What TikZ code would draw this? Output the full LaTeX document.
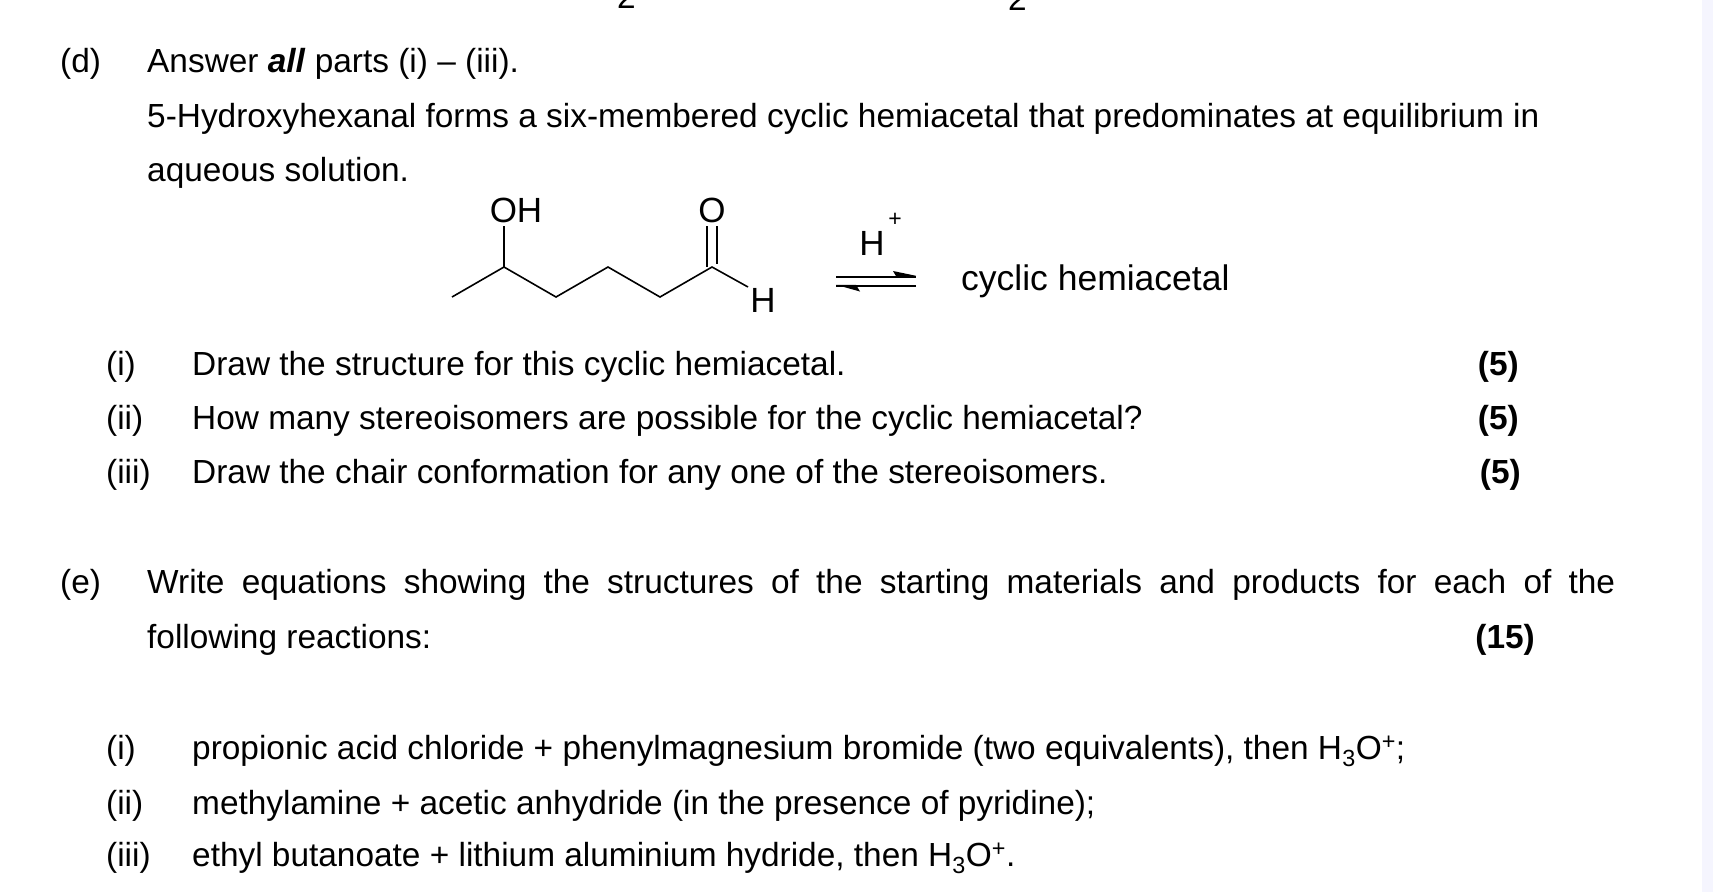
\documentclass[tikz,border=0pt]{standalone}
\usepackage{fontspec}
\setmainfont{Liberation Sans}
\begin{document}
\begin{tikzpicture}[x=1pt,y=-1pt,
  txt/.style={anchor=base west,inner sep=0pt,font=\fontsize{33.4}{38}\selectfont},
  mk/.style={anchor=base east,inner sep=0pt,font=\fontsize{33.4}{38}\selectfont\bfseries},
  atom/.style={inner sep=0pt,font=\fontsize{35}{40}\selectfont},
  bond/.style={line width=1.6pt}]
\useasboundingbox (0,0) rectangle (1713,892);
\fill[white] (0,0) rectangle (1713,892);
\fill[black!8!blue!4!white] (1702,0) rectangle (1713,892);
\begin{scope}
\clip (0,0) rectangle (1713,892);
\node[txt] (t2a) at (617,8) {2};
\node[txt] (t2b) at (1008,10) {2};
\end{scope}
% (d)
\node[txt] (d) at (60,72) {(d)};
\node[txt] (d1) at (147,72) {Answer \textbf{\textit{all}} parts (i) -- (iii).};
\node[txt] (d2) at (147,127) {5-Hydroxyhexanal forms a six-membered cyclic hemiacetal that predominates at equilibrium in};
\node[txt] (d3) at (147,181) {aqueous solution.};
% molecule
\coordinate (c1) at (452,297);
\coordinate (c2) at (504,267);
\coordinate (c3) at (556,297);
\coordinate (c4) at (608,267);
\coordinate (c5) at (660,297);
\coordinate (c6) at (712,267);
\coordinate (hb) at (748,287);
\node[atom] (oh) at (516,210) {OH};
\node[atom] (o) at (712,210) {O};
\node[atom] (h) at (763,300) {H};
\draw[bond] (c1)--(c2)--(c3)--(c4)--(c5)--(c6)--(hb);
\draw[bond] (c2)--(504,226);
\draw[bond] (707,226)--(707,267) (717,226)--(717,264);
\node[atom] (hp) at (872,243) {H};
\node[inner sep=0pt,font=\fontsize{23}{25}\selectfont] (plus) at (895,220) {+};
\coordinate (a1) at (836,277); \coordinate (a2) at (916,277);
\coordinate (a3) at (916,286); \coordinate (a4) at (836,286);
\draw[line width=1.4pt] (a1)--(a2);
\fill (916,275.8)--(893,271)--(897,277.8)--cycle;
\draw[line width=1.4pt] (a3)--(a4);
\fill (836,284.8)--(860,291.5)--(856,284.8)--cycle;
\node[txt,font=\fontsize{35.5}{40}\selectfont] (cyc) at (961,290) {cyclic hemiacetal};
% d items
\node[txt] (i1) at (106,375) {(i)};
\node[txt] (i1t) at (192,375) {Draw the structure for this cyclic hemiacetal.};
\node[mk] (m1) at (1519,375) {(5)};
\node[txt] (i2) at (106,429) {(ii)};
\node[txt] (i2t) at (192,429) {How many stereoisomers are possible for the cyclic hemiacetal?};
\node[mk] (m2) at (1519,429) {(5)};
\node[txt] (i3) at (106,483) {(iii)};
\node[txt] (i3t) at (192,483) {Draw the chair conformation for any one of the stereoisomers.};
\node[mk] (m3) at (1521,483) {(5)};
% (e)
\node[txt] (e) at (60,593) {(e)};
\node[txt] (e1) at (147,593) {\makebox[1468pt][s]{Write equations showing the structures of the starting materials and products for each of the}};
\node[txt] (e2) at (147,648) {following reactions:};
\node[mk] (m4) at (1535,648) {(15)};
\node[txt] (j1) at (106,759) {(i)};
\node[txt] (j1t) at (192,759) {propionic acid chloride + phenylmagnesium bromide (two equivalents), then H\textsubscript{3}O\textsuperscript{+};};
\node[txt] (j2) at (106,814) {(ii)};
\node[txt] (j2t) at (192,814) {methylamine + acetic anhydride (in the presence of pyridine);};
\node[txt] (j3) at (106,866) {(iii)};
\node[txt] (j3t) at (192,866) {ethyl butanoate + lithium aluminium hydride, then H\textsubscript{3}O\textsuperscript{+}.};
\end{tikzpicture}
\end{document}
